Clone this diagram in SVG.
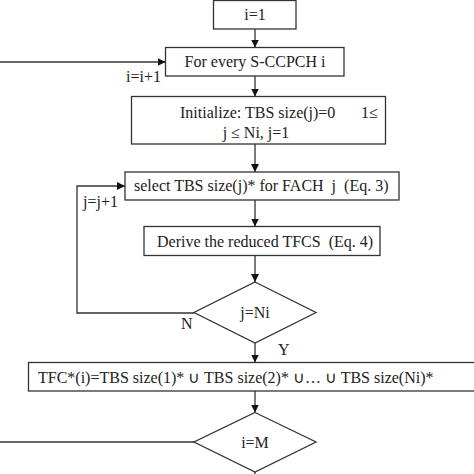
<svg xmlns="http://www.w3.org/2000/svg" width="474" height="474" viewBox="0 0 474 474">
<style>
.box{fill:#fff;stroke:#333;stroke-width:1.3}
.ln{fill:none;stroke:#333;stroke-width:1.3}
.t{font-family:"Liberation Serif","Times New Roman",serif;font-size:16px;fill:#222}
.m{text-anchor:middle}
</style>
<defs>
<marker id="ah" viewBox="0 0 10 10" refX="10" refY="5" markerWidth="8" markerHeight="8" markerUnits="userSpaceOnUse" orient="auto">
<path d="M0,0 L10,5 L0,10 Z" fill="#111"/>
</marker>
</defs>
<rect width="474" height="474" fill="#fff"/>
<g id="connectors">
<line class="ln" x1="255" y1="29" x2="255" y2="47.5" marker-end="url(#ah)"/>
<line class="ln" x1="0" y1="62" x2="165.5" y2="62" marker-end="url(#ah)"/>
<line class="ln" x1="255" y1="76" x2="255" y2="96.5" marker-end="url(#ah)"/>
<line class="ln" x1="255" y1="144" x2="255" y2="172" marker-end="url(#ah)"/>
<polyline class="ln" points="194,313 77,313 77,186 125,186" marker-end="url(#ah)"/>
<line class="ln" x1="255" y1="200" x2="255" y2="226.5" marker-end="url(#ah)"/>
<line class="ln" x1="255" y1="255.5" x2="255" y2="282" marker-end="url(#ah)"/>
<line class="ln" x1="255" y1="343" x2="255" y2="362.5" marker-end="url(#ah)"/>
<line class="ln" x1="255" y1="391" x2="255" y2="412.5" marker-end="url(#ah)"/>
<line class="ln" x1="194" y1="442" x2="0" y2="442"/>
<line class="ln" x1="255" y1="472" x2="255" y2="474"/>
<text class="t" x="126" y="82">i=i+1</text>
<text class="t" x="83" y="207">j=j+1</text>
<text class="t" x="181" y="329">N</text>
<text class="t" x="278" y="355">Y</text>
</g>
<g id="n1">
<rect class="box" x="213.5" y="0.5" width="82.5" height="28.5"/>
<text class="t m" x="255" y="20">i=1</text>
</g>
<g id="n2">
<rect class="box" x="165.5" y="47.5" width="178.5" height="28.5"/>
<text class="t m" x="255" y="67">For every S-CCPCH i</text>
</g>
<g id="n3">
<rect class="box" x="131.5" y="96.5" width="254" height="47.5"/>
<text class="t" x="180" y="118">Initialize: TBS size(j)=0<tspan x="361">1≤</tspan></text>
<text class="t m" x="256" y="138">j ≤ Ni, j=1</text>
</g>
<g id="n4">
<rect class="box" x="125" y="172" width="274" height="28"/>
<text class="t" x="134" y="191" xml:space="preserve">select TBS size(j)* for FACH  j  (Eq. 3)</text>
</g>
<g id="n5">
<rect class="box" x="144" y="226.5" width="236" height="29"/>
<text class="t" x="157" y="247" xml:space="preserve">Derive the reduced TFCS  (Eq. 4)</text>
</g>
<g id="n6">
<polygon class="box" points="255,282 316,312.5 255,343 194,312.5"/>
<text class="t m" x="255" y="318">j=Ni</text>
</g>
<g id="n7">
<rect class="box" x="28.5" y="362.5" width="460" height="28.5"/>
<text class="t" x="38" y="383">TFC*(i)=TBS size(1)* ∪ TBS size(2)* ∪… ∪ TBS size(Ni)*</text>
</g>
<g id="n8">
<polygon class="box" points="255,412.5 316,442 255,472 194,442"/>
<text class="t m" x="255" y="448">i=M</text>
</g>
</svg>
